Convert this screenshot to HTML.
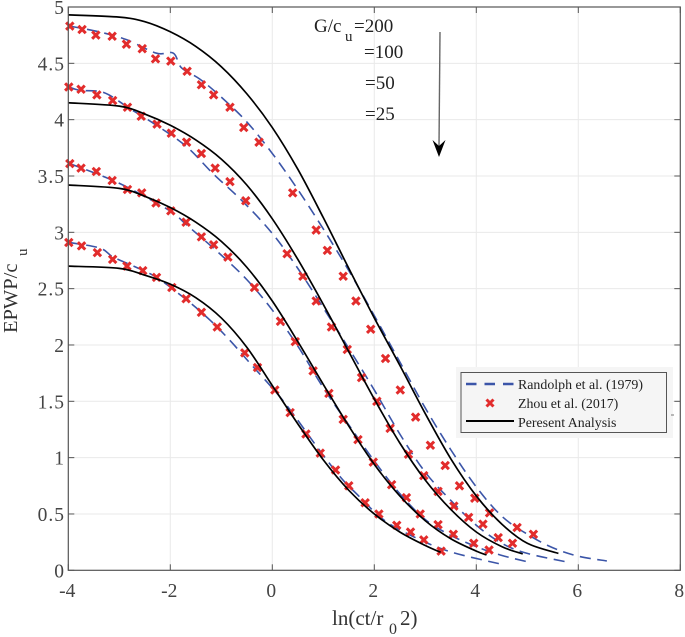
<!DOCTYPE html>
<html lang="en">
<head>
<meta charset="utf-8">
<title>EPWP/cu versus ln(ct/r02)</title>
<style>
html,body{margin:0;padding:0;background:#fff;}
svg{display:block;font-family:"Liberation Serif",serif;filter:blur(0.35px);}
</style>
</head>
<body>
<svg id="chart" xmlns="http://www.w3.org/2000/svg" width="685" height="637" viewBox="0 0 685 637">
  <rect x="0" y="0" width="685" height="637" fill="#ffffff"/>
  <g id="grid"></g>
  <g id="series-blue"></g>
  <g id="series-red"></g>
  <g id="series-black"></g>
  <g id="axes"></g>

  <text transform="translate(17,333) rotate(-90)" font-size="20.5" fill="#333">EPWP/c</text>
  <text transform="translate(27,256) rotate(-90)" font-size="15" fill="#333">u</text>
  <text x="332" y="625" font-size="21" fill="#333">ln(ct/r</text>
  <text x="389" y="634" font-size="16" fill="#333">0</text>
  <text x="400" y="625" font-size="21" fill="#333">2)</text>

  <g fill="#222" font-size="19">
    <text x="314" y="32">G/c</text>
    <text x="345" y="41" font-size="15">u</text>
    <text x="354" y="32">=200</text>
    <text x="364" y="58">=100</text>
    <text x="365" y="89">=50</text>
    <text x="365" y="120">=25</text>
  </g>
  <line x1="440" y1="32" x2="439" y2="146" stroke="#666" stroke-width="1.4"/>
  <path d="M439 157 L432.5 140 L439 146 L445.5 140 Z" fill="#000"/>

  <g>
    <rect x="456" y="367" width="217" height="71" fill="#f5f5f5"/>
    <rect x="461" y="372.5" width="205.5" height="60" fill="#f5f5f5" stroke="#555" stroke-width="1"/>
    <g>
      <line x1="466" y1="384" x2="514" y2="384" stroke="#3b55a8" stroke-width="2.4" stroke-dasharray="10.5,8"/>
      <text x="518" y="389" font-size="13.9" fill="#222">Randolph et al. (1979)</text>
    </g>
    <g>
      <path d="M486.5 399.5 L493.5 406.5 M493.5 399.5 L486.5 406.5" stroke="#e22c2c" stroke-width="3" fill="none"/>
      <text x="518" y="408" font-size="13.9" fill="#222">Zhou et al. (2017)</text>
    </g>
    <g>
      <line x1="466" y1="421" x2="514" y2="421" stroke="#000" stroke-width="2"/>
      <text x="518" y="427" font-size="13.9" fill="#222">Peresent Analysis</text>
    </g>
  </g>
  <line x1="671" y1="415" x2="674" y2="415" stroke="#777" stroke-width="1"/>
</svg>
<script>
var xTicks = [-4, -2, 0, 2, 4, 6, 8];
var yTicks = [0, 0.5, 1, 1.5, 2, 2.5, 3, 3.5, 4, 4.5, 5];
var xTickLabels = ["-4", "-2", "0", "2", "4", "6", "8"];
var yTickLabels = ["0", "0.5", "1", "1.5", "2", "2.5", "3", "3.5", "4", "4.5", "5"];

var randolph200X = [-3.97, -3.4, -2.86, -2.27, -1.94, -1.78, -1.42, -1, -0.5, 0, 0.5, 1, 1.5, 2, 2.5, 3, 3.5, 4, 4.5, 5, 5.5, 6, 6.56];
var randolph200Y = [4.83, 4.78, 4.71, 4.59, 4.59, 4.46, 4.36, 4.20, 3.98, 3.70, 3.38, 3.03, 2.66, 2.26, 1.85, 1.44, 1.07, 0.74, 0.48, 0.32, 0.20, 0.125, 0.083];
var randolph100X = [-3.99, -3.77, -3.3, -2.8, -2.27, -1.68, -1.16, -0.57, 0, 0.5, 1, 1.5, 2, 2.5, 3, 3.5, 4, 4.5, 5, 5.84];
var randolph100Y = [4.29, 4.26, 4.24, 4.10, 3.95, 3.76, 3.52, 3.27, 2.99, 2.68, 2.33, 1.97, 1.60, 1.21, 0.87, 0.62, 0.40, 0.24, 0.15, 0.068];
var randolph50X = [-3.97, -3.12, -2.47, -1.94, -1.69, -1.03, -0.5, 0, 0.5, 1, 1.5, 2, 2.5, 3, 3.5, 4, 4.47, 4.99];
var randolph50Y = [3.61, 3.46, 3.31, 3.17, 3.07, 2.81, 2.58, 2.31, 1.99, 1.62, 1.29, 0.97, 0.68, 0.45, 0.31, 0.21, 0.136, 0.077];
var randolph25X = [-3.99, -3.38, -3.12, -2.72, -2.27, -1.68, -1.22, -0.83, -0.44, 0.22, 0.87, 1.33, 1.65, 2.18, 2.76, 3.48, 4.47];
var randolph25Y = [2.91, 2.86, 2.78, 2.70, 2.60, 2.40, 2.22, 2.04, 1.84, 1.5, 1.10, 0.83, 0.68, 0.45, 0.30, 0.166, 0.056];

var zhou200X = [-3.97, -3.73, -3.46, -3.14, -2.86, -2.55, -2.29, -1.99, -1.67, -1.39, -1.15, -0.83, -0.56, -0.26, 0.40, 0.86, 1.08, 1.39, 1.64, 1.93, 2.22, 2.51, 2.81, 3.10, 3.39, 3.67, 3.97, 4.26, 4.80, 5.12];
var zhou200Y = [4.83, 4.80, 4.75, 4.74, 4.67, 4.63, 4.54, 4.52, 4.43, 4.31, 4.22, 4.11, 3.93, 3.80, 3.35, 3.02, 2.84, 2.61, 2.39, 2.14, 1.88, 1.60, 1.36, 1.11, 0.93, 0.75, 0.64, 0.51, 0.38, 0.32];
var zhou100X = [-3.99, -3.75, -3.44, -3.13, -2.84, -2.57, -2.26, -1.98, -1.68, -1.39, -1.12, -0.83, -0.52, 0.29, 0.60, 0.86, 1.16, 1.47, 1.75, 2.05, 2.31, 2.67, 2.97, 3.25, 3.56, 3.85, 4.13, 4.43, 4.71];
var zhou100Y = [4.29, 4.27, 4.22, 4.17, 4.11, 4.03, 3.96, 3.88, 3.80, 3.70, 3.57, 3.45, 3.28, 2.81, 2.61, 2.39, 2.16, 1.96, 1.71, 1.50, 1.26, 1.03, 0.84, 0.70, 0.57, 0.47, 0.41, 0.29, 0.24];
var zhou50X = [-3.97, -3.75, -3.45, -3.14, -2.84, -2.56, -2.28, -1.99, -1.69, -1.39, -1.15, -0.87, -0.35, 0.16, 0.45, 0.80, 1.11, 1.39, 1.68, 1.98, 2.34, 2.63, 2.90, 3.25, 3.55, 3.95, 4.25];
var zhou50Y = [3.61, 3.57, 3.54, 3.46, 3.38, 3.35, 3.26, 3.19, 3.09, 2.96, 2.89, 2.78, 2.51, 2.21, 2.03, 1.77, 1.57, 1.34, 1.16, 0.96, 0.76, 0.645, 0.50, 0.405, 0.32, 0.24, 0.18];
var zhou25X = [-3.99, -3.74, -3.43, -3.13, -2.85, -2.54, -2.27, -1.97, -1.69, -1.39, -1.08, -0.54, -0.29, 0.05, 0.35, 0.66, 0.94, 1.24, 1.50, 1.82, 2.09, 2.44, 2.71, 2.97, 3.31];
var zhou25Y = [2.91, 2.88, 2.82, 2.76, 2.70, 2.66, 2.60, 2.51, 2.41, 2.29, 2.16, 1.93, 1.80, 1.60, 1.40, 1.21, 1.04, 0.89, 0.75, 0.60, 0.50, 0.40, 0.34, 0.27, 0.17];

var present200X = [-4, -3, -2.5, -2, -1.5, -1, -0.5, 0, 0.5, 1, 1.5, 2, 2.5, 3, 3.5, 4, 4.5, 5, 5.61];
var present200Y = [4.93, 4.91, 4.87, 4.78, 4.65, 4.47, 4.23, 3.93, 3.56, 3.13, 2.68, 2.24, 1.82, 1.39, 0.99, 0.66, 0.41, 0.24, 0.15];
var present100X = [-4, -3, -2.5, -2, -1.5, -1, -0.5, 0, 0.5, 1, 1.5, 2, 2.5, 3, 3.5, 4, 4.5, 4.91];
var present100Y = [4.15, 4.12, 4.05, 3.95, 3.82, 3.65, 3.42, 3.12, 2.76, 2.36, 1.94, 1.52, 1.13, 0.80, 0.54, 0.34, 0.21, 0.145];
var present50X = [-4, -3, -2.5, -2, -1.5, -1, -0.5, 0, 0.5, 1, 1.5, 2, 2.5, 3, 3.5, 4, 4.2];
var present50Y = [3.42, 3.39, 3.32, 3.22, 3.09, 2.92, 2.69, 2.39, 2.03, 1.65, 1.28, 0.94, 0.66, 0.44, 0.28, 0.17, 0.136];
var present25X = [-4, -3, -2.5, -2, -1.5, -1, -0.5, 0, 0.5, 1, 1.5, 2, 2.5, 3, 3.3];
var present25Y = [2.70, 2.68, 2.62, 2.54, 2.42, 2.24, 1.98, 1.64, 1.30, 0.98, 0.71, 0.50, 0.34, 0.22, 0.16];

var SVGNS = "http://www.w3.org/2000/svg";
var plotLeft = 68.3, plotRight = 680.3, plotTop = 7, plotBottom = 570.3;

function xScale(v) { return plotLeft + (v + 4) / 12 * (plotRight - plotLeft); }
function yScale(v) { return plotBottom - v / 5 * (plotBottom - plotTop); }

function make(tag, parent, attrs) {
  var el = document.createElementNS(SVGNS, tag);
  for (var k in attrs) { el.setAttribute(k, attrs[k]); }
  parent.appendChild(el);
  return el;
}

function smoothPath(xs, ys) {
  var pts = xs.map(function (x, i) { return [xScale(x), yScale(ys[i])]; });
  var d = "M" + pts[0][0].toFixed(2) + " " + pts[0][1].toFixed(2);
  for (var i = 0; i < pts.length - 1; i++) {
    var p0 = pts[Math.max(i - 1, 0)], p1 = pts[i], p2 = pts[i + 1], p3 = pts[Math.min(i + 2, pts.length - 1)];
    var c1x = p1[0] + (p2[0] - p0[0]) / 6, c1y = p1[1] + (p2[1] - p0[1]) / 6;
    var c2x = p2[0] - (p3[0] - p1[0]) / 6, c2y = p2[1] - (p3[1] - p1[1]) / 6;
    d += " C" + c1x.toFixed(2) + " " + c1y.toFixed(2) + " " + c2x.toFixed(2) + " " + c2y.toFixed(2) + " " + p2[0].toFixed(2) + " " + p2[1].toFixed(2);
  }
  return d;
}

var gridG = document.getElementById("grid");
var axesG = document.getElementById("axes");
var blueG = document.getElementById("series-blue");
var redG = document.getElementById("series-red");
var blackG = document.getElementById("series-black");

xTicks.forEach(function (t, i) {
  var x = xScale(t);
  if (i > 0 && i < xTicks.length - 1) {
    var g = make("line", gridG, { x1: x, x2: x, y1: plotTop, y2: plotBottom, stroke: "#e9e9e9", "stroke-width": 1 });
    
    
  }
  var b = make("line", axesG, { x1: x, x2: x, y1: plotBottom, y2: plotBottom - 6, stroke: "#555", "stroke-width": 1 });
  
  
  var tp = make("line", axesG, { x1: x, x2: x, y1: plotTop, y2: plotTop + 6, stroke: "#555", "stroke-width": 1 });
  
  
  var lbl = make("text", axesG, { x: x - 1, y: 597, "text-anchor": "middle", "font-size": 19.5, fill: "#444" });
  lbl.textContent = xTickLabels[i];
  
  
});

yTicks.forEach(function (t, i) {
  var y = yScale(t);
  if (i > 0 && i < yTicks.length - 1) {
    var g = make("line", gridG, { x1: plotLeft, x2: plotRight, y1: y, y2: y, stroke: "#e9e9e9", "stroke-width": 1 });
    
    
  }
  var l = make("line", axesG, { x1: plotLeft, x2: plotLeft + 6, y1: y, y2: y, stroke: "#555", "stroke-width": 1 });
  
  
  var r = make("line", axesG, { x1: plotRight, x2: plotRight - 6, y1: y, y2: y, stroke: "#555", "stroke-width": 1 });
  
  
  var lbl = make("text", axesG, { x: 65, y: y + 7, "text-anchor": "end", "font-size": 19.5, "letter-spacing": 1, fill: "#444" });
  lbl.textContent = yTickLabels[i];
  
  
});

var frame = make("rect", axesG, { x: plotLeft, y: plotTop, width: plotRight - plotLeft, height: plotBottom - plotTop, fill: "none", stroke: "#555", "stroke-width": 1.2 });



[[randolph200X, randolph200Y], [randolph100X, randolph100Y], [randolph50X, randolph50Y], [randolph25X, randolph25Y]].forEach(function (s) {
  var p = make("path", blueG, { d: smoothPath(s[0], s[1]), fill: "none", stroke: "#3b55a8", "stroke-width": 1.6, "stroke-dasharray": "11,6.5" });
  
  
});

[[zhou200X, zhou200Y], [zhou100X, zhou100Y], [zhou50X, zhou50Y], [zhou25X, zhou25Y]].forEach(function (s) {
  s[0].forEach(function (xv, i) {
    var cx = xScale(xv), cy = yScale(s[1][i]), r = 3.7;
    var m = make("path", redG, {
      d: "M" + (cx - r) + " " + (cy - r) + " L" + (cx + r) + " " + (cy + r) + " M" + (cx + r) + " " + (cy - r) + " L" + (cx - r) + " " + (cy + r),
      stroke: "#e22c2c", "stroke-width": 3, fill: "none"
    });
    
    
  });
});

[[present200X, present200Y], [present100X, present100Y], [present50X, present50Y], [present25X, present25Y]].forEach(function (s) {
  var p = make("path", blackG, { d: smoothPath(s[0], s[1]), fill: "none", stroke: "#000", "stroke-width": 1.7 });
  
  
});
</script>
</body>
</html>
